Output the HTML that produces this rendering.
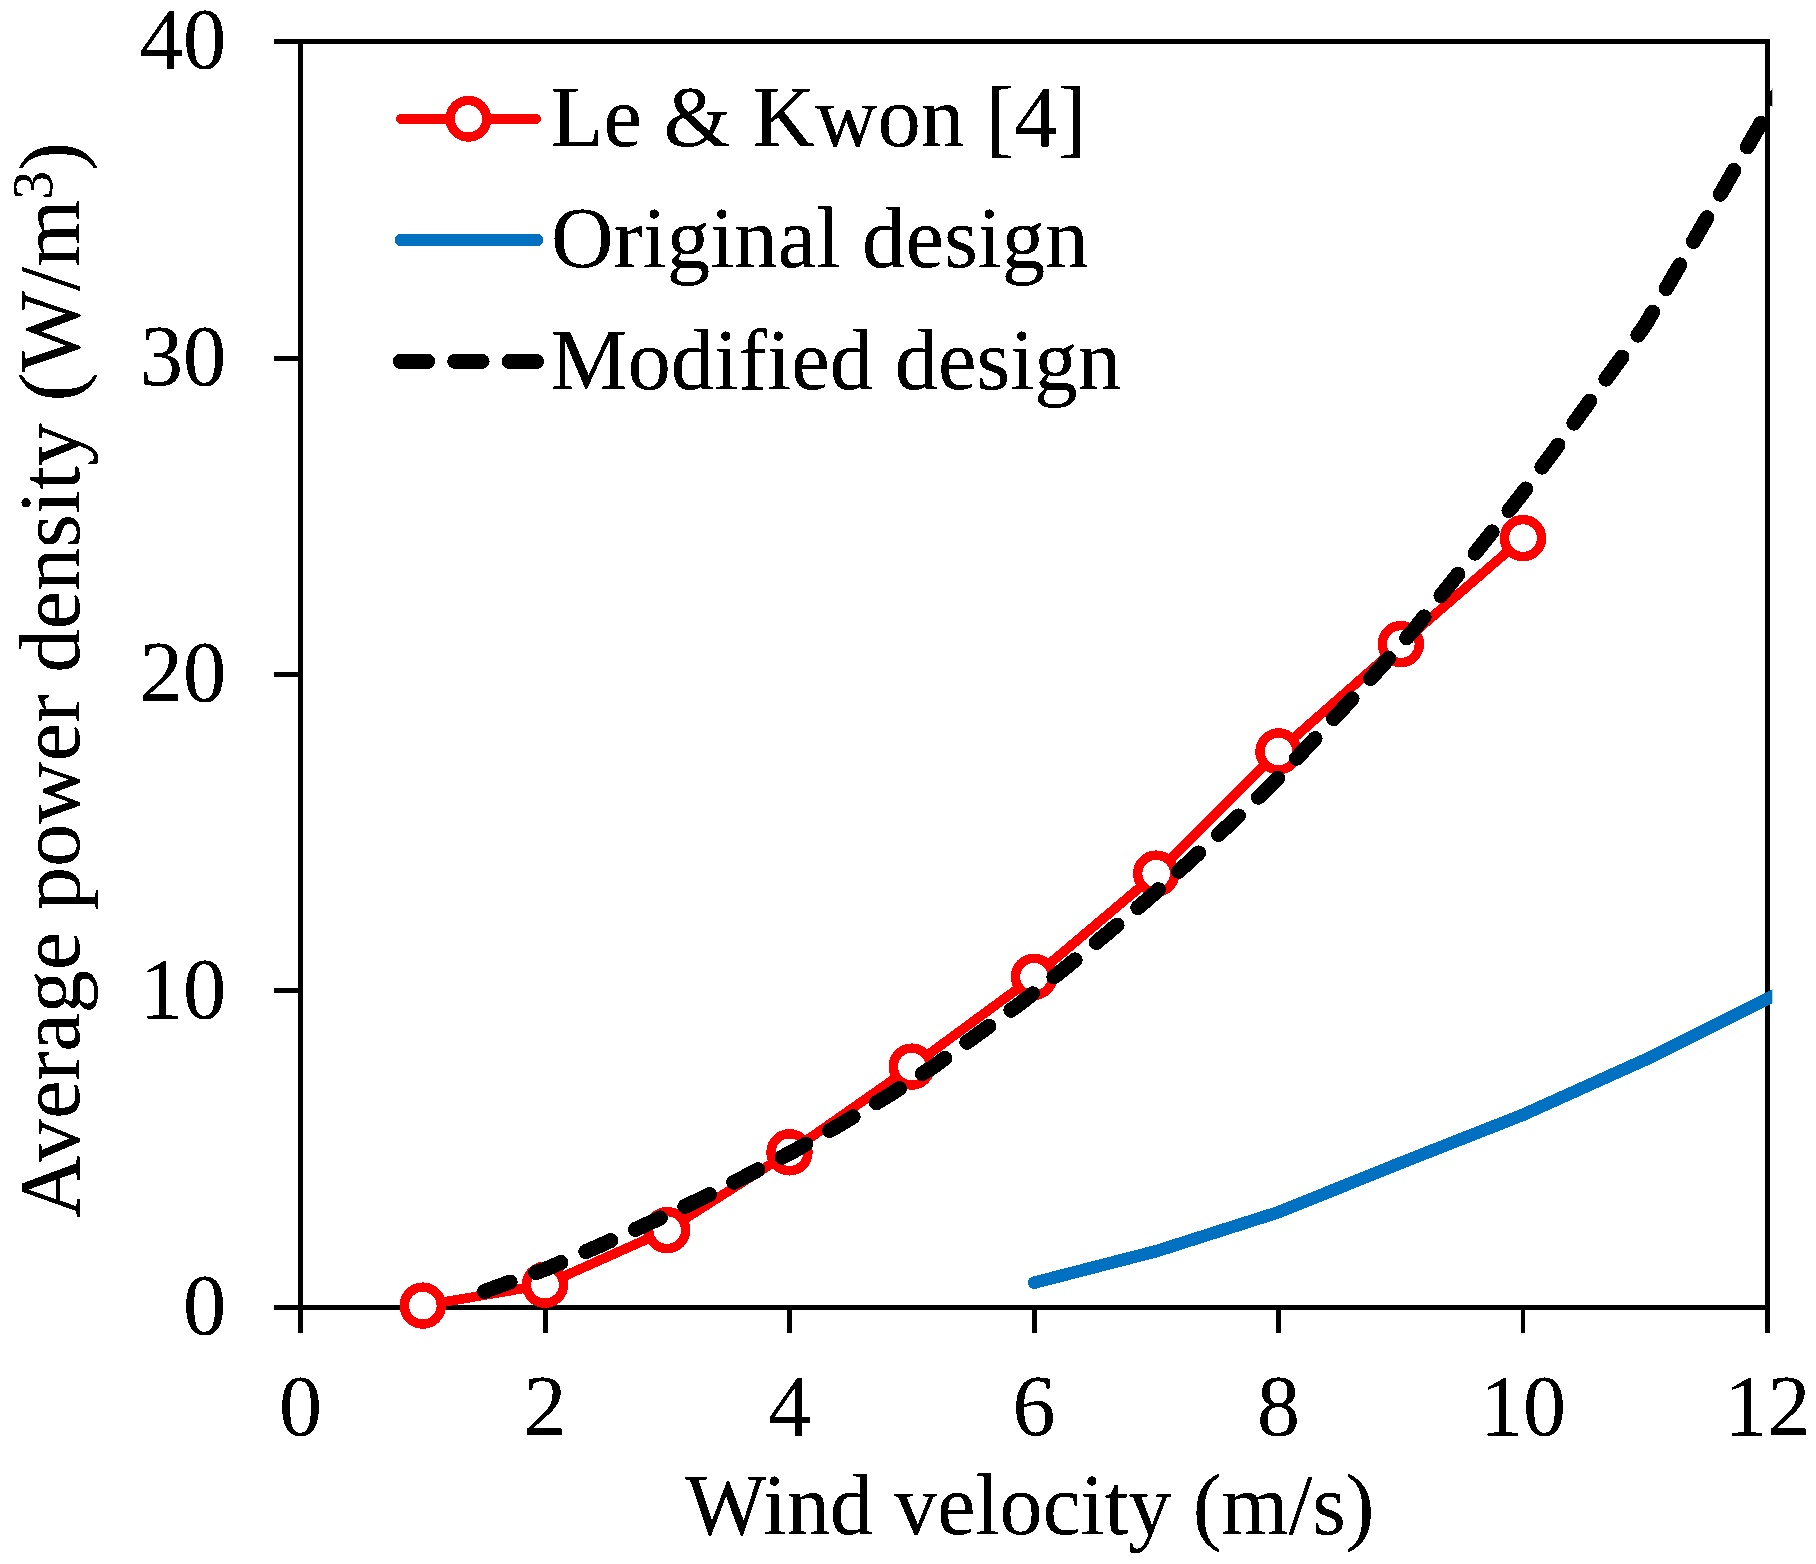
<!DOCTYPE html>
<html lang="en">
<head>
<meta charset="utf-8">
<title>Average power density vs wind velocity</title>
<style>
html,body{margin:0;padding:0;background:#fff;}
body{width:1816px;height:1564px;overflow:hidden;}
svg{display:block;}
text{font-family:"Liberation Serif",serif;fill:#000;}
</style>
</head>
<body>
<svg width="1816" height="1564" viewBox="0 0 1816 1564" shape-rendering="crispEdges" role="img" aria-label="Average power density versus wind velocity">
<rect x="0" y="0" width="1816" height="1564" fill="#ffffff"/>
<g stroke="#000" stroke-width="5" fill="none" stroke-linecap="butt">
<line x1="274" y1="41.5" x2="1770" y2="41.5"/>
<line x1="274" y1="1307.5" x2="1770" y2="1307.5"/>
<line x1="300.5" y1="39" x2="300.5" y2="1333"/>
<line x1="1767.5" y1="39" x2="1767.5" y2="1333"/>
<line x1="274" y1="990.5" x2="300.5" y2="990.5"/>
<line x1="274" y1="674.5" x2="300.5" y2="674.5"/>
<line x1="274" y1="358.5" x2="300.5" y2="358.5"/>
<line x1="545.5" y1="1307.5" x2="545.5" y2="1333"/>
<line x1="789.5" y1="1307.5" x2="789.5" y2="1333"/>
<line x1="1034.5" y1="1307.5" x2="1034.5" y2="1333"/>
<line x1="1278.5" y1="1307.5" x2="1278.5" y2="1333"/>
<line x1="1523" y1="1307.5" x2="1523" y2="1333" stroke-width="4"/>
</g>
<defs><filter id="alias" x="-5%" y="-5%" width="110%" height="110%" color-interpolation-filters="sRGB"><feComponentTransfer><feFuncA type="discrete" tableValues="0 0 1 1 1"/></feComponentTransfer></filter></defs>
<defs><clipPath id="plotclip"><rect x="296" y="36" width="1476.3" height="1276"/></clipPath></defs>
<polyline points="422.8,1305.6 545.0,1284.7 667.2,1230.1 789.5,1152.3 911.8,1066.6 1034.0,976.8 1156.2,873.6 1278.5,751.4 1400.8,644.1 1523.0,538.1" fill="none" stroke="#ff0000" stroke-width="9.7" stroke-linejoin="round" stroke-linecap="round"/>
<circle cx="422.8" cy="1305.6" r="18.5" fill="#fff" stroke="#ff0000" stroke-width="9.4"/>
<circle cx="545.0" cy="1284.7" r="18.5" fill="#fff" stroke="#ff0000" stroke-width="9.4"/>
<circle cx="667.2" cy="1230.1" r="18.5" fill="#fff" stroke="#ff0000" stroke-width="9.4"/>
<circle cx="789.5" cy="1152.3" r="18.5" fill="#fff" stroke="#ff0000" stroke-width="9.4"/>
<circle cx="911.8" cy="1066.6" r="18.5" fill="#fff" stroke="#ff0000" stroke-width="9.4"/>
<circle cx="1034.0" cy="976.8" r="18.5" fill="#fff" stroke="#ff0000" stroke-width="9.4"/>
<circle cx="1156.2" cy="873.6" r="18.5" fill="#fff" stroke="#ff0000" stroke-width="9.4"/>
<circle cx="1278.5" cy="751.4" r="18.5" fill="#fff" stroke="#ff0000" stroke-width="9.4"/>
<circle cx="1400.8" cy="644.1" r="18.5" fill="#fff" stroke="#ff0000" stroke-width="9.4"/>
<circle cx="1523.0" cy="538.1" r="18.5" fill="#fff" stroke="#ff0000" stroke-width="9.4"/>
<g clip-path="url(#plotclip)">
<polyline points="1034.0,1282.7 1156.2,1251.2 1278.5,1212.2 1400.8,1162.9 1523.0,1114.8 1645.2,1059.7 1767.5,998.7 1804.2,980.4" fill="none" stroke="#0070c0" stroke-width="12.5" stroke-linejoin="round" stroke-linecap="round"/>
<polyline points="484.5,1291.4 497.3,1286.7 548.2,1268.1 597.9,1246.4 647.8,1223.8 697.1,1200.7 745.5,1176.4 793.7,1151.1 841.1,1124.0 887.9,1095.9 933.7,1066.5 977.8,1034.3 1021.7,1002.4 1064.4,968.7 1106.7,933.8 1148.3,898.8 1188.7,862.2 1228.4,825.3 1268.0,788.4 1305.6,748.7 1342.6,709.0 1379.3,668.9 1415.4,627.9 1449.4,585.0 1483.3,543.0 1517.3,500.0 1550.1,456.2 1581.8,412.2 1613.9,368.2 1645.4,324.7 1672.7,277.2 1699.9,230.1 1727.2,182.2 1754.2,134.9 1800.0,55.1" fill="none" stroke="#000" stroke-width="15" stroke-linejoin="round" stroke-linecap="round" stroke-dasharray="27.3 27.15"/>
</g>
<line x1="401" y1="118.8" x2="536" y2="118.8" stroke="#ff0000" stroke-width="10" stroke-linecap="round"/>
<circle cx="468.4" cy="118.8" r="18.3" fill="#fff" stroke="#ff0000" stroke-width="9.3"/>
<line x1="400.5" y1="240" x2="537.2" y2="240" stroke="#0070c0" stroke-width="12" stroke-linecap="round"/>
<line x1="400.3" y1="361.4" x2="536.6" y2="361.4" stroke="#000" stroke-width="15" stroke-linecap="round" stroke-dasharray="27.3 27.15"/>
<g filter="url(#alias)">
<text x="550.7" y="145.6" font-size="86.5">Le &amp; Kwon [4]</text>
<text x="551.1" y="266.8" font-size="86.8">Original design</text>
<text x="550.4" y="389.1" font-size="86.7">Modified design</text>
<text x="226.2" y="1334.3" font-size="86.5" text-anchor="end">0</text>
<text x="226.2" y="1017.8" font-size="86.5" text-anchor="end">10</text>
<text x="226.2" y="701.3" font-size="86.5" text-anchor="end">20</text>
<text x="226.2" y="384.8" font-size="86.5" text-anchor="end">30</text>
<text x="226.2" y="68.3" font-size="86.5" text-anchor="end">40</text>
<text x="300.5" y="1434.8" font-size="86" text-anchor="middle">0</text>
<text x="545.0" y="1434.8" font-size="86" text-anchor="middle">2</text>
<text x="789.5" y="1434.8" font-size="86" text-anchor="middle">4</text>
<text x="1034.0" y="1434.8" font-size="86" text-anchor="middle">6</text>
<text x="1278.5" y="1434.8" font-size="86" text-anchor="middle">8</text>
<text x="1523.0" y="1434.8" font-size="86" text-anchor="middle">10</text>
<text x="1767.5" y="1434.8" font-size="86" text-anchor="middle">12</text>
<text x="1029.8" y="1534.4" font-size="86" text-anchor="middle">Wind velocity (m/s)</text>
<text transform="translate(79,680.2) rotate(-90)" font-size="86.44" text-anchor="middle">Average power density (W/m<tspan font-size="57.5" dy="-27.5">3</tspan><tspan dy="27.5">)</tspan></text>
</g>
</svg>
</body>
</html>
